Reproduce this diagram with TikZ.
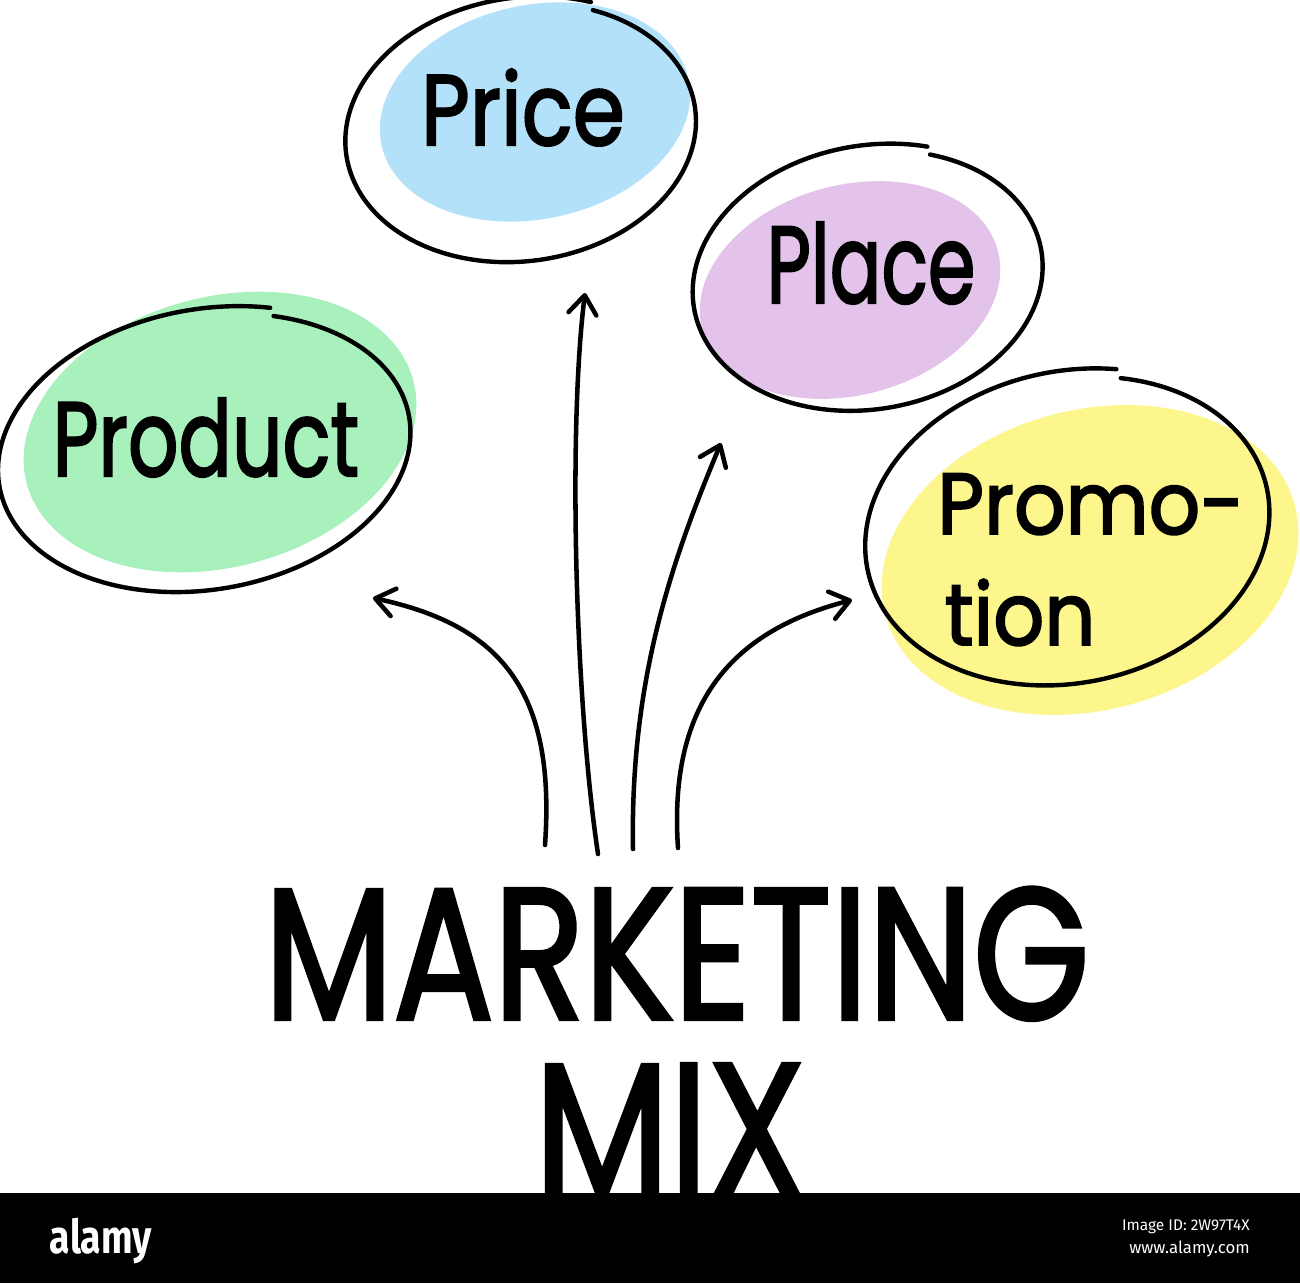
\documentclass[tikz,border=0pt]{standalone}
\usepackage{fontspec}
\setmainfont{Poppins}
\newfontfamily\hand{Poppins}[FakeBold=2.2]
\newfontfamily\wmfont{Fira Sans}
\usetikzlibrary{arrows.meta}
\definecolor{cblue}{RGB}{180,225,250}
\definecolor{cpurple}{RGB}{227,195,233}
\definecolor{cgreen}{RGB}{168,240,188}
\definecolor{cyellow}{RGB}{252,246,140}
% cx cy a b phi colour
\newcommand\blobfill[6]{%
  \fill[#6] plot[domain=0:356,samples=90,smooth cycle,variable=\t]
   ({#1+#3*cos(\t)*cos(#5)-#4*sin(\t)*sin(#5)},{#2+#3*cos(\t)*sin(#5)+#4*sin(\t)*cos(#5)});}
% cx cy a b phi t0 t1
\newcommand\ringline[7]{%
  \draw[ring] plot[domain=#6:#7,samples=140,smooth,variable=\t]
   ({#1+(1+0.055*(\t-(#6))/360)*(#3*cos(\t)*cos(#5)-#4*sin(\t)*sin(#5))},
    {#2+(1+0.055*(\t-(#6))/360)*(#3*cos(\t)*sin(#5)+#4*sin(\t)*cos(#5))});}
\begin{document}
\begin{tikzpicture}[x=0.75pt,y=-0.75pt,
  ring/.style={draw=black,line width=3.3pt,line cap=round,line join=round},
  arr/.style={draw=black,line width=3.4pt,line cap=round,
    -{Straight Barb[round,length=14pt,width=21pt]}},
  lbl/.style={inner sep=0pt,anchor=base,text=black}]
\useasboundingbox (0,0) rectangle (1300,1283);
\fill[white] (0,0) rectangle (1300,1283);
\begin{scope}
\clip (0,0) rectangle (1300,1283);
\blobfill{535}{112}{157}{107}{-12}{cblue}
\blobfill{850}{290}{153}{105}{-15}{cpurple}
\blobfill{220}{432}{200}{135}{-15}{cgreen}
\blobfill{1090}{560}{212}{150}{-15}{cyellow}
\end{scope}
\ringline{523}{131}{172}{127}{-8}{-60}{298}
\ringline{870}{279}{172}{127}{-10}{-62}{296}
\ringline{207}{451}{203}{135}{-10}{-64}{294}
\ringline{1070}{529}{199}{150}{-12}{-66}{292}
% labels
\node[lbl,font=\hand\fontsize{75}{75}\selectfont,xscale=0.84] (price) at (523,145) {Price};
\node[lbl,font=\hand\fontsize{82}{82}\selectfont,xscale=0.70] (place) at (871,303) {Place};
\node[lbl,font=\hand\fontsize{79}{79}\selectfont,xscale=0.75] (product) at (206,476) {Product};
\node[lbl,font=\hand\fontsize{65}{65}\selectfont,xscale=0.93] (promo) at (1091,534) {Promo-};
\node[lbl,font=\hand\fontsize{65}{65}\selectfont,xscale=0.92] (tion) at (1020,645) {tion};
\node[lbl,font=\hand\fontsize{140}{140}\selectfont,xscale=0.80] (mk) at (677,1019) {MARKETING};
\node[lbl,font=\hand\fontsize{140}{140}\selectfont,xscale=0.84] (mix) at (670,1194) {MIX};
% arrows
\coordinate (s1) at (545,845); \coordinate (e1) at (373,598);
\coordinate (s2) at (598,854); \coordinate (e2) at (585,293);
\coordinate (s3) at (633,849); \coordinate (e3) at (721,443);
\coordinate (s4) at (678,848); \coordinate (e4) at (852,600);
\draw[arr] (s1) .. controls (556,690) and (500,625) .. (e1);
\draw[arr] (s2) .. controls (575,700) and (568,430) .. (e2);
\draw[arr] (s3) .. controls (630,680) and (672,560) .. (e3);
\draw[arr] (s4) .. controls (668,700) and (735,630) .. (e4);
% bottom bar
\fill[black] (0,1193) rectangle (1300,1283);
\node[lbl,text=white,font=\wmfont\bfseries\fontsize{35}{35}\selectfont,xscale=0.80] (alamy) at (101,1253) {alamy};
\node[inner sep=0pt,anchor=base east,text=white,font=\wmfont\fontsize{11.6}{11.6}\selectfont] (imgid) at (1250,1230) {Image ID: 2W97T4X};
\node[inner sep=0pt,anchor=base east,text=white,font=\wmfont\fontsize{12.6}{12.6}\selectfont] (www) at (1250,1253) {www.alamy.com};
\end{tikzpicture}
\end{document}
